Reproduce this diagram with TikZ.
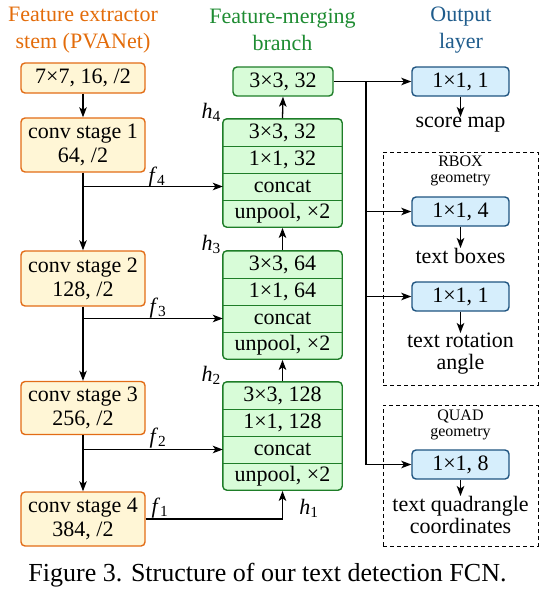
\documentclass[tikz,border=0pt]{standalone}
\usepackage{fontspec}
\setmainfont{Liberation Serif}
\usetikzlibrary{arrows.meta,backgrounds,fit}
\definecolor{ocol}{RGB}{226,108,22}
\definecolor{ofill}{RGB}{255,246,214}
\definecolor{gcol}{RGB}{30,125,40}
\definecolor{gfill}{RGB}{216,252,216}
\definecolor{bcol}{RGB}{31,84,128}
\definecolor{bfill}{RGB}{214,238,252}
\definecolor{otitle}{RGB}{227,108,10}
\definecolor{gtitle}{RGB}{30,140,50}
\definecolor{btitle}{RGB}{31,92,140}
\begin{document}
\begin{tikzpicture}[x=1pt,y=-1pt,
  base/.style={font=\fontsize{22}{24}\selectfont, inner sep=0pt},
  obox/.style={base, draw=ocol, fill=ofill, line width=1.4pt, rounded corners=4pt, minimum width=124pt, align=center},
  row/.style={base, minimum width=119pt, minimum height=27pt},
  grp/.style={draw=gcol, fill=gfill, line width=1.4pt, rounded corners=4pt, inner sep=0pt},
  sep/.style={draw=gcol, line width=1.4pt},
  gbox/.style={base, draw=gcol, fill=gfill, line width=1.4pt, rounded corners=4pt, minimum width=100pt, minimum height=29pt},
  bbox/.style={base, draw=bcol, fill=bfill, line width=1.4pt, rounded corners=4pt, minimum width=97pt, minimum height=29pt},
  lbl/.style={base, align=center, font=\fontsize{22}{22}\selectfont},
  small/.style={inner sep=0pt, align=center, font=\fontsize{16}{16}\selectfont},
  title/.style={inner sep=0pt, align=center, font=\fontsize{22}{27}\selectfont},
  conn/.style={line width=1.3pt, black},
  arr/.style={conn, -{Stealth[length=10pt,width=7.5pt,inset=2.5pt]}},
  dbox/.style={draw=black, line width=1pt, dash pattern=on 4pt off 3pt, inner sep=0pt},
  flab/.style={inner sep=0pt, font=\fontsize{22}{22}\selectfont}
]
\useasboundingbox (0,0) rectangle (551,595);

% titles
\node[title, text=otitle] (t1) at (83,30) {Feature extractor\\stem (PVANet)};
\node[title, text=gtitle] (t2) at (282.5,30) {Feature-merging\\branch};
\node[title, text=btitle] (t3) at (461,30) {Output\\layer};

% left column
\node[obox, minimum height=30pt] (c0) at (83,78) {7×7, 16, /2};
\node[obox, minimum height=54pt] (c1) at (83,145) {conv stage 1\\64, /2};
\node[obox, minimum height=55pt] (c2) at (83,278.5) {conv stage 2\\128, /2};
\node[obox, minimum height=53pt] (c3) at (83,408) {conv stage 3\\256, /2};
\node[obox, minimum height=54pt] (c4) at (83,519) {conv stage 4\\384, /2};

% merging branch
\node[gbox] (m0) at (283,81.5) {3×3, 32};

\node[row] (g4a) at (282.5,132.5) {3×3, 32};
\node[row] (g4b) at (282.5,159.5) {1×1, 32};
\node[row] (g4c) at (282.5,186.5) {concat};
\node[row] (g4d) at (282.5,213.5) {unpool, ×2};
\node[row] (g3a) at (282.5,264.5) {3×3, 64};
\node[row] (g3b) at (282.5,291.5) {1×1, 64};
\node[row] (g3c) at (282.5,318.5) {concat};
\node[row] (g3d) at (282.5,345.5) {unpool, ×2};
\node[row] (g2a) at (282.5,395.5) {3×3, 128};
\node[row] (g2b) at (282.5,422.5) {1×1, 128};
\node[row] (g2c) at (282.5,449.5) {concat};
\node[row] (g2d) at (282.5,476.5) {unpool, ×2};
\begin{scope}[on background layer]
  \node[grp, fit=(g4a)(g4d)] (g4) {};
  \node[grp, fit=(g3a)(g3d)] (g3) {};
  \node[grp, fit=(g2a)(g2d)] (g2) {};
\end{scope}
\foreach \g in {g4,g3,g2}{
  \draw[sep] (\g a.south west) -- (\g a.south east);
  \draw[sep] (\g b.south west) -- (\g b.south east);
  \draw[sep] (\g c.south west) -- (\g c.south east);
}

% h labels
\node[flab, anchor=east] (h4) at ([xshift=-1pt,yshift=6pt]g4.north west) {\textit{h}\textsubscript{4}};
\node[flab, anchor=east] (h3) at ([xshift=-1pt,yshift=6pt]g3.north west) {\textit{h}\textsubscript{3}};
\node[flab, anchor=east] (h2) at ([xshift=-1pt,yshift=6pt]g2.north west) {\textit{h}\textsubscript{2}};
\node[flab] (h1) at (309,508) {\textit{h}\textsubscript{1}};

% f labels
\node[flab] (f4) at (157,177) {\textit{f}\textsubscript{4}};
\node[flab] (f3) at (158,308) {\textit{f}\textsubscript{3}};
\node[flab] (f2) at (158,438) {\textit{f}\textsubscript{2}};
\node[flab] (f1) at (160,508) {\textit{f}\textsubscript{1}};

% left arrows
\draw[arr] (c0) -- (c1);
\draw[arr] (c1) -- (c2);
\draw[arr] (c2) -- (c3);
\draw[arr] (c3) -- (c4);
\draw[arr] (c1.south |- g4c.west) -- (g4c.west);
\draw[arr] (c2.south |- g3c.west) -- (g3c.west);
\draw[arr] (c3.south |- g2c.west) -- (g2c.west);
\draw[arr] (c4.east) -| (g2.south);

% merging arrows
\draw[arr] (g2.north) -- (g3.south);
\draw[arr] (g3.north) -- (g4.south);
\draw[arr] (g4.north) -- (m0.south);

% output column
\node[dbox, minimum width=155pt, minimum height=233pt] (rbox) at (460.5,268.5) {};
\node[dbox, minimum width=155pt, minimum height=141pt] (qbox) at (460.5,475.5) {};
\node[small] (rl) at (460.5,171) {RBOX\\geometry};
\node[small] (ql) at (460.5,425) {QUAD\\geometry};

\node[bbox] (o1) at (460.5,81.5) {1×1, 1};
\node[bbox] (o2) at (460.5,211.5) {1×1, 4};
\node[bbox] (o3) at (460.5,296.5) {1×1, 1};
\node[bbox] (o4) at (460.5,464.5) {1×1, 8};

\node[lbl, anchor=north] (l1) at (460.5,117) {score map};
\node[lbl, anchor=north] (l2) at (460.5,248) {text boxes};
\node[lbl, anchor=north] (l3) at (460.5,333) {text rotation\\angle};
\node[lbl, anchor=north] (l4) at (460.5,496) {text quadrangle\\coordinates};

\draw[arr] (o1) -- (l1);
\draw[arr] (o2) -- (l2);
\draw[arr] (o3) -- (l3);
\draw[arr] (o4) -- (l4);

\coordinate (split) at (366,81.5);
\draw[arr] (m0.east) -- (o1.west);
\draw[conn] (split) -- (split |- o4.west);
\draw[arr] (split |- o2.west) -- (o2.west);
\draw[arr] (split |- o3.west) -- (o3.west);
\draw[arr] (split |- o4.west) -- (o4.west);

% caption
\node[inner sep=0pt, font=\fontsize{26}{26}\selectfont] (cap) at (267.5,575) {Figure 3. Structure of our text detection FCN.};
\end{tikzpicture}
\end{document}
